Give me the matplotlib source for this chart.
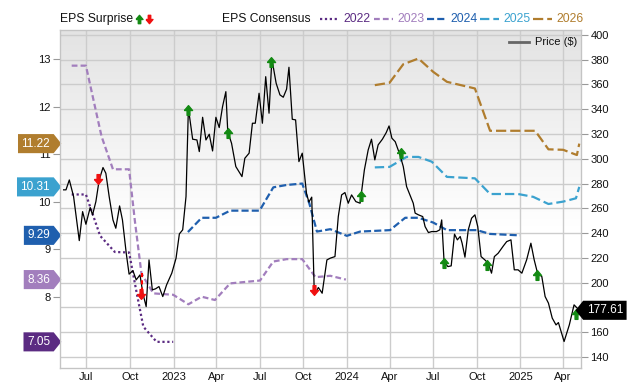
import matplotlib
matplotlib.use("Agg")
import matplotlib.pyplot as plt
import matplotlib.dates as mdates
import matplotlib.transforms as mtransforms
from matplotlib.colors import LinearSegmentedColormap
from matplotlib.lines import Line2D
from matplotlib.path import Path
import numpy as np
import pandas as pd

plt.rcParams['font.family'] = ['Liberation Sans', 'DejaVu Sans']

# ---- data (day offsets from 2022-07-01) ----
base = pd.Timestamp('2022-07-01')

price_days = [-48, -43, -36, -27, -15, -8, -1, 8, 13, 20,
              27, 35, 41, 48, 56, 62, 70, 76, 84, 90,
              98, 105, 113, 119, 126, 132, 139, 146, 153, 161,
              169, 180, 189, 196, 203, 210, 215, 224, 233, 238,
              245, 252, 259, 266, 273, 280, 287, 294, 298, 306,
              315, 328, 334, 343, 350, 356, 364, 371, 378, 385,
              391, 400, 408, 415, 422, 427, 434, 441, 448, 455,
              464, 469, 475, 480, 482, 489, 497, 507, 514, 524,
              531, 538, 545, 552, 559, 568, 577, 586, 594, 601,
              608, 615, 624, 632, 638, 644, 651, 661, 668, 675,
              682, 689, 693, 700, 709, 714, 721, 728, 738, 745,
              749, 754, 762, 769, 776, 782, 788, 792, 798, 805,
              812, 819, 825, 832, 840, 847, 854, 860, 868, 879,
              886, 895, 902, 910, 918, 928, 937, 944, 951, 960,
              967, 974, 982, 990, 995, 1007, 1018, 1028, 1039]
price_vals = [274.9, 274.9, 282.9, 269.5, 233.9, 257.3, 247.1, 260.6, 254.7, 265.4,
              282.9, 292.9, 288.3, 269.5, 250.6, 243.9, 261.9, 250.6, 223.7, 206.8,
              209.7, 202.2, 206.2, 191.4, 180.6, 218.3, 194.1, 195.0, 196.8, 188.7,
              198.1, 207.6, 219.7, 239.3, 242.6, 269.5, 340.8, 315.8, 315.2, 305.8,
              333.5, 315.2, 319.8, 306.3, 333.5, 325.2, 342.1, 354.2, 321.9, 312.5,
              293.7, 285.6, 300.4, 304.5, 328.7, 328.7, 352.9, 328.7, 366.3, 336.8,
              380.6, 361.0, 351.6, 349.7, 356.2, 373.9, 331.9, 331.4, 297.7, 304.5,
              272.0, 265.0, 269.0, 197.0, 191.0, 196.0, 191.4, 218.3, 219.7, 221.0,
              253.3, 270.8, 272.7, 264.1, 270.8, 265.4, 264.1, 291.0, 307.1, 315.8,
              299.1, 311.2, 315.8, 321.1, 326.5, 316.6, 313.8, 303.1, 293.7, 277.5,
              270.8, 264.1, 256.1, 254.7, 253.3, 245.2, 240.4, 241.2, 241.2, 242.6,
              250.6, 217.0, 212.9, 213.5, 239.1, 234.5, 237.2, 231.8, 220.5, 242.6,
              252.0, 254.7, 245.2, 221.0, 218.3, 215.6, 207.6, 221.0, 223.7, 229.6,
              233.1, 234.5, 210.3, 210.3, 207.6, 218.3, 231.8, 218.3, 207.6, 204.9,
              188.7, 183.4, 171.3, 165.8, 167.7, 152.4, 165.8, 182.0, 177.61]
last_price = 177.61

cons_2022_days = [-31, -1, 29, 60, 90, 106, 120, 148, 183]
cons_2022 = [10.15, 10.15, 9.28, 8.94, 8.93, 8.08, 7.37, 7.05, 7.05]

cons_2023_days = [-31, -1, 18, 32, 56, 90, 102, 116, 141, 183, 215,
                  243, 271, 303, 366, 394, 422, 455, 483, 514, 547]
cons_2023 = [12.86, 12.86, 12.0, 11.37, 10.68, 10.68, 9.61, 8.49, 8.07, 8.04, 7.84,
             8.0, 7.93, 8.28, 8.34, 8.74, 8.79, 8.79, 8.41, 8.44, 8.36]

cons_2024_days = [214, 243, 273, 303, 365, 394, 422, 455, 470, 486, 514,
                  549, 577, 640, 672, 700, 731, 760, 823, 851, 914]
cons_2024 = [9.36, 9.66, 9.66, 9.81, 9.81, 10.30, 10.35, 10.38, 9.96, 9.37, 9.42,
             9.28, 9.37, 9.40, 9.66, 9.66, 9.56, 9.40, 9.40, 9.32, 9.29]

cons_2025_days = [608, 639, 675, 700, 728, 760, 819, 851, 910, 942, 974, 1005, 1032, 1039]
cons_2025 = [10.72, 10.73, 10.94, 10.94, 10.84, 10.52, 10.49, 10.16, 10.16, 10.10,
             9.95, 10.0, 10.07, 10.31]

cons_2026_days = [608, 639, 668, 700, 731, 760, 819, 851, 946, 974, 1005, 1034, 1039]
cons_2026 = [12.45, 12.50, 12.89, 13.01, 12.73, 12.52, 12.38, 11.49, 11.49, 11.10,
             11.09, 10.98, 11.22]

beat_days = [215, 299, 389, 578, 663, 754, 845, 949, 1033]
beat_price = [339, 321, 378, 270, 305, 216, 214, 206, 175]
miss_days = [25, 115, 480]
miss_price = [284, 191, 194]

years = ['2022', '2023', '2024', '2025', '2026']
final_eps = ['7.05', '8.36', '9.29', '10.31', '11.22']
colors = ['#5b2b82', '#a27ebd', '#1f5fae', '#3ba2cf', '#b07d2e']
dashes = [(1, 1.2), (2.6, 1.4), (3.2, 1.4), (4.2, 1.8), (4.6, 1.8)]

price_ticks = list(range(140, 401, 20))
# the 180 label sits under the last-price tag, so it is left blank
price_tick_labels = ['' if t == 180 else str(t) for t in price_ticks]


def to_dates(days):
    return base + pd.to_timedelta(days, unit='D')


def tag_right(x0, y0, width, height, mutation_size):
    # label box with a small point on the right side
    pad = mutation_size * 0.3
    x0, y0 = x0 - pad, y0 - pad
    x1, y1 = x0 + width + 2 * pad, y0 + height + 2 * pad
    tip = (y1 - y0) * 0.4
    return Path([(x0, y0), (x1, y0), (x1 + tip, (y0 + y1) / 2), (x1, y1),
                 (x0, y1), (x0, y0)], closed=True)


def tag_left(x0, y0, width, height, mutation_size):
    pad = mutation_size * 0.3
    x0, y0 = x0 - pad, y0 - pad
    x1, y1 = x0 + width + 2 * pad, y0 + height + 2 * pad
    tip = (y1 - y0) * 0.4
    return Path([(x0, y0), (x1, y0), (x1, y1), (x0, y1),
                 (x0 - tip, (y0 + y1) / 2), (x0, y0)], closed=True)


# arrow marker
up_arrow = Path([(-1, 0), (0, 1.2), (1, 0), (0.35, 0), (0.35, -1.2),
                 (-0.35, -1.2), (-0.35, 0), (-1, 0)])
down_arrow = Path([(x, -y) for x, y in up_arrow.vertices])

fig = plt.figure(figsize=(6.4, 3.82), dpi=100)
ax = fig.add_axes([60.3 / 640, 14 / 382, 520.4 / 640, 338 / 382])
ax_eps = ax.twinx()
ax_p = ax.twinx()

xmin, xmax = to_dates([-55, 1042])
ax.set_xlim(xmin, xmax)
ax.set_ylim(131, 404)
ax_p.set_ylim(131, 404)
ax_eps.set_ylim(6.5, 13.61)

# background gradient
cmap = LinearSegmentedColormap.from_list('bg', [(0, 'white'), (0.42, 'white'), (1, '#e3e3e3')])
grad = np.linspace(0, 1, 256).reshape(-1, 1)
ax.imshow(grad, extent=[0, 1, 0, 1], transform=ax.transAxes, aspect='auto',
          cmap=cmap, origin='lower', zorder=0)

# grid + axes styling
ax.set_axisbelow(True)
ax.grid(True, color='#cccccc', lw=1)
ax.set_yticks(price_ticks)
ax.set_yticklabels(price_tick_labels)
ax.yaxis.tick_right()
ax.tick_params(axis='y', length=5, color='#999999', labelsize=8, pad=2, labelcolor='#111111')
ax.xaxis.set_major_locator(mdates.MonthLocator(bymonth=[1, 4, 7, 10]))


def fmt_date(x, pos=None):
    d = mdates.num2date(x)
    return str(d.year) if d.month == 1 else d.strftime('%b')


ax.xaxis.set_major_formatter(plt.FuncFormatter(fmt_date))
ax.tick_params(axis='x', length=0, labelsize=8, pad=3, labelcolor='#111111')
for a in (ax, ax_eps, ax_p):
    for s in a.spines.values():
        s.set_color('#c4c4c4')

ax_eps.yaxis.tick_left()
ax_eps.set_yticks([8, 9, 10, 11, 12, 13])
ax_eps.tick_params(axis='y', length=5, color='#999999', labelsize=8, pad=2, labelcolor='#111111')
ax_p.set_yticks([])

# consensus lines
all_days = [cons_2022_days, cons_2023_days, cons_2024_days, cons_2025_days, cons_2026_days]
all_vals = [cons_2022, cons_2023, cons_2024, cons_2025, cons_2026]
for d, v, c, ds in zip(all_days, all_vals, colors, dashes):
    ax_eps.plot(to_dates(d), v, color=c, lw=1.6, dashes=ds)

# left value tags
tr_l = mtransforms.blended_transform_factory(ax_eps.transAxes, ax_eps.transData)
for val, c in zip(final_eps, colors):
    ax_eps.annotate(val, xy=(0, float(val)), xycoords=tr_l, xytext=(-7.3, 0),
                    textcoords='offset points', ha='right', va='center',
                    color='white', fontsize=8.5, annotation_clip=False, zorder=5,
                    bbox=dict(boxstyle=tag_right, fc=c, ec='none'))

# price
ax_p.plot(to_dates(price_days), price_vals, color='black', lw=0.9, zorder=3)
ax_p.plot(to_dates([117, 117]), [208, 193], color='red', lw=1.5, dashes=(2, 1.5), zorder=4)
ax_p.plot(to_dates(beat_days), beat_price, ls='none', marker=up_arrow, ms=7,
          color='#138a13', zorder=5)
ax_p.plot(to_dates(miss_days), miss_price, ls='none', marker=down_arrow, ms=7,
          color='#f01010', zorder=5)

tr_r = mtransforms.blended_transform_factory(ax_p.transAxes, ax_p.transData)
ax_p.annotate(f'{last_price:.2f}', xy=(1, last_price), xycoords=tr_r, xytext=(4.3, 0),
              textcoords='offset points', ha='left', va='center',
              color='white', fontsize=8.5, annotation_clip=False, zorder=6,
              bbox=dict(boxstyle=tag_left, fc='black', ec='none'))

# price legend
fig.add_artist(Line2D([509 / 640, 529 / 640], [1 - 42 / 382] * 2, color='#666666', lw=2))
fig.text(535 / 640, 1 - 42 / 382, 'Price ($)', fontsize=8, va='center', color='#111111')

# header legend
hy = 1 - 19 / 382
fig.text(60 / 640, hy, 'EPS Surprise', fontsize=8.7, va='center', color='#111111')
fig.add_artist(Line2D([139 / 640], [hy], marker=up_arrow, ms=6, color='#138a13', ls='none'))
fig.add_artist(Line2D([148.5 / 640], [hy], marker=down_arrow, ms=6, color='#f01010', ls='none'))
fig.text(222 / 640, hy, 'EPS Consensus', fontsize=8.7, va='center', color='#111111')
leg_x = [320, 374, 427, 480, 533]
for x0, yr, c, ds in zip(leg_x, years, colors, dashes):
    fig.add_artist(Line2D([x0 / 640, (x0 + 19) / 640], [hy, hy], color=c, lw=1.6, dashes=ds))
    fig.text((x0 + 23) / 640, hy, yr, fontsize=8.7, va='center', color=c)

fig.savefig('out.png', dpi=100)
